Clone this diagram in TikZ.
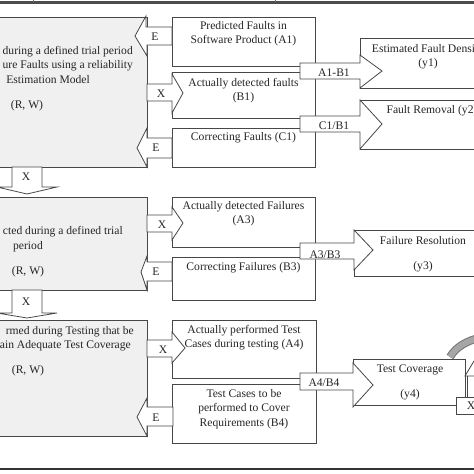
\documentclass[tikz,border=0pt]{standalone}
\usepackage{fontspec}
\setmainfont{Liberation Serif}
\begin{document}
\begin{tikzpicture}[x=1pt,y=-1pt,
  ln/.style={draw=black!72, line width=0.8pt},
  lbox/.style={ln, fill=black!6, rectangle, inner sep=0pt, anchor=north west},
  wbox/.style={ln, fill=white, rectangle, inner sep=0pt, anchor=north west},
  barrow/.style={ln, fill=white, line join=miter},
  txt/.style={font=\fontsize{11.6}{14.5}\selectfont, inner sep=0pt, align=center, text=black!85}]
\useasboundingbox (0,0) rectangle (474,474);
\clip (0,0) rectangle (474,474);
% frame lines
\draw[black!70, line width=2.2pt] (0,2.4) -- (474,2.4);
\draw[black!55, line width=0.6pt] (33,0) -- (33,2) (275,0) -- (275,2);
\draw[black!80, line width=2pt] (0,468.5) -- (474,468.5);
% left boxes
\node[lbox, minimum width=167, minimum height=150] (L1) at (-20,17) {};
\node[lbox, minimum width=167, minimum height=93] (L2) at (-20,197) {};
\node[lbox, minimum width=167, minimum height=116] (L3) at (-20,320) {};
% right boxes
\node[wbox, minimum width=143, minimum height=49] (A1) at (172,17) {};
\node[wbox, minimum width=143, minimum height=46] (B1) at (172,72) {};
\node[wbox, minimum width=143, minimum height=39] (C1) at (172,128) {};
\node[wbox, minimum width=143, minimum height=50] (A3) at (172,197) {};
\node[wbox, minimum width=143, minimum height=43] (B3) at (172,257) {};
\node[wbox, minimum width=144, minimum height=58] (A4) at (172,320) {};
\node[wbox, minimum width=144, minimum height=59] (B4) at (172,384) {};
\node[wbox, minimum width=140, minimum height=50] (Y1) at (360,38) {};
\node[wbox, minimum width=140, minimum height=49] (Y2) at (360,100) {};
\node[wbox, minimum width=146, minimum height=46] (Y3) at (354,230) {};
\node[wbox, minimum width=112, minimum height=46] (Y4) at (353,359) {};
% down arrows
\draw[barrow] (12,167) -- (42,167) -- (42,187) -- (57,187) -- (27,194) -- (-3,187) -- (12,187) -- cycle;
\draw[barrow] (12,290) -- (42,290) -- (42,313) -- (57,313) -- (27,318) -- (-3,313) -- (12,313) -- cycle;
\node[txt] (d1) at (26,177) {X};
\node[txt] (d2) at (26,302) {X};
% left-pointing E arrows
\draw[barrow] (172,27) -- (146,27) -- (146,16) -- (135,36) -- (147,56) -- (147,45) -- (172,45) -- cycle;
\draw[barrow] (172,138) -- (147,138) -- (147,128) -- (137,148) -- (147,167) -- (147,158) -- (172,158) -- cycle;
\draw[barrow] (172,262) -- (147,262) -- (147,256) -- (141,272) -- (147,290) -- (147,281) -- (172,281) -- cycle;
\draw[barrow] (173,407) -- (147,407) -- (147,398) -- (137,417) -- (147,436) -- (147,426) -- (173,426) -- cycle;
\node[txt] (e1) at (155,37) {E};
\node[txt] (e2) at (156,148) {E};
\node[txt] (e3) at (156,272) {E};
\node[txt] (e4) at (156,418) {E};
% right-pointing X arrows
\draw[barrow] (147,84) -- (172,84) -- (172,74) -- (183,93) -- (172,113) -- (172,101) -- (147,101) -- cycle;
\draw[barrow] (147,215) -- (172,215) -- (172,207) -- (183,223) -- (172,240) -- (172,232) -- (147,232) -- cycle;
\draw[barrow] (147,340) -- (172,340) -- (172,332) -- (185,348) -- (172,363) -- (172,357) -- (147,357) -- cycle;
\node[txt] (x1) at (161,94) {X};
\node[txt] (x2) at (162,225) {X};
\node[txt] (x3) at (163,350) {X};
% ratio arrows
\draw[barrow] (300,63) -- (360,63) -- (360,55) -- (382,71) -- (360,88) -- (360,79) -- (300,79) -- cycle;
\draw[barrow] (300,116) -- (360,116) -- (360,100) -- (382,124) -- (360,149) -- (360,132) -- (300,132) -- cycle;
\draw[barrow] (300,243) -- (354,243) -- (354,230) -- (373,250) -- (354,270) -- (354,259) -- (300,259) -- cycle;
\draw[barrow] (300,373) -- (353,373) -- (353,363) -- (373,385) -- (353,407) -- (353,390) -- (300,390) -- cycle;
\node[txt] (r1) at (334,73) {A1-B1};
\node[txt] (r2) at (334,126) {C1/B1};
\node[txt] (r3) at (325,255) {A3/B3};
\node[txt] (r4) at (324,383) {A4/B4};
% partial elements at right
\draw[black!55, line width=8pt] (450,357) .. controls (456,347) and (466,341) .. (482,337);
\draw[black!35, line width=6pt] (450,357) .. controls (456,347) and (466,341) .. (482,337);
\node[wbox, minimum width=34, minimum height=17] (XB) at (456,397) {};
\draw[ln] (467,397) -- (467,376);
\draw[ln] (480,376) -- (465,376) -- (474,361);
\node[txt] (xb) at (471,406) {X};
% left box texts
\node[txt, anchor=east] (t11) at (133,52) {during a defined trial period};
\node[txt, anchor=east] (t12) at (133,66) {ure Faults using a reliability};
\node[txt, anchor=east] (t13) at (90,80) {Estimation Model};
\node[txt] (t14) at (27,106) {(R, W)};
\node[txt, anchor=east] (t21) at (123,232) {cted during a defined trial};
\node[txt] (t22) at (28,247) {period};
\node[txt] (t23) at (28,272) {(R, W)};
\node[txt, anchor=east] (t31) at (134,332) {rmed during Testing that be};
\node[txt, anchor=east] (t32) at (131,346) {ain Adequate Test Coverage};
\node[txt] (t33) at (28,371) {(R, W)};
% right box texts
\node[txt, anchor=north] (ta1) at (243.5,21) {Predicted Faults in\\Software Product (A1)};
\node[txt, anchor=north] (tb1) at (243.5,78) {Actually detected faults\\(B1)};
\node[txt, anchor=north] (tc1) at (243.5,132) {Correcting Faults (C1)};
\node[txt, anchor=north] (ta3) at (243.5,201) {Actually detected Failures\\(A3)};
\node[txt, anchor=north] (tb3) at (243.5,262) {Correcting Failures (B3)};
\node[txt, anchor=north] (ta4) at (244,325) {Actually performed Test\\Cases during testing (A4)};
\node[txt, anchor=north] (tb4) at (244,389) {Test Cases to be\\performed to Cover\\Requirements (B4)};
\node[txt, anchor=north] (ty1) at (428,44) {Estimated Fault Density\\(y1)};
\node[txt, anchor=north] (ty2) at (432,105) {Fault Removal (y2)};
\node[txt] (ty3a) at (423,241) {Failure Resolution};
\node[txt] (ty3b) at (423,267) {(y3)};
\node[txt] (ty4a) at (410,370) {Test Coverage};
\node[txt] (ty4b) at (410,395) {(y4)};
\end{tikzpicture}
\end{document}
